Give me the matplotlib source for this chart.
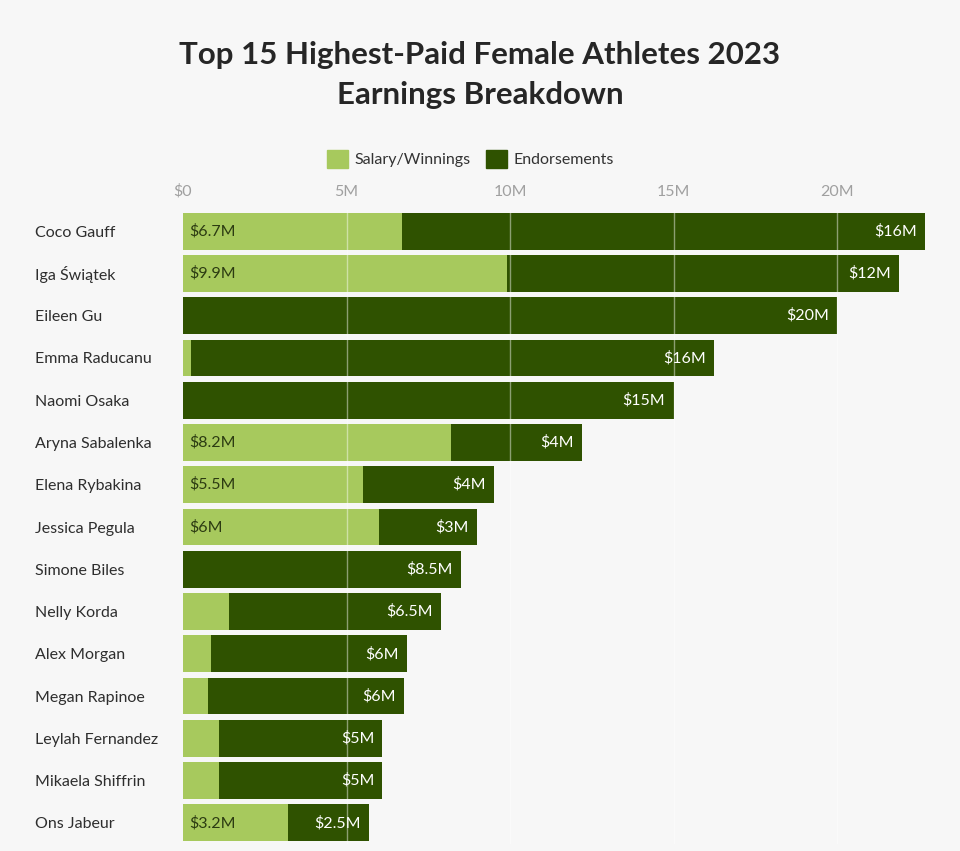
import matplotlib
matplotlib.use("Agg")
import matplotlib.pyplot as plt
from matplotlib.patches import Patch

athletes = ["Coco Gauff", "Iga Świątek", "Eileen Gu", "Emma Raducanu", "Naomi Osaka",
            "Aryna Sabalenka", "Elena Rybakina", "Jessica Pegula", "Simone Biles",
            "Nelly Korda", "Alex Morgan", "Megan Rapinoe", "Leylah Fernandez",
            "Mikaela Shiffrin", "Ons Jabeur"]
salary = [6.7, 9.9, 0.0, 0.25, 0.0, 8.2, 5.5, 6.0, 0.0, 1.4, 0.85, 0.75, 1.1, 1.1, 3.2]
endorsements = [16, 12, 20, 16, 15, 4, 4, 3, 8.5, 6.5, 6, 6, 5, 5, 2.5]
tick_values = [0, 5, 10, 15, 20]
tick_labels = ["$0", "5M", "10M", "15M", "20M"]

BG = "#f7f7f7"
LIGHT = "#a7c95d"
DARK = "#2f5200"
plt.rcParams['font.family'] = ['Lato', 'DejaVu Sans']

W, H = 960, 851
px_per_m = 32.7
xmax = 23.23
ax_w = xmax * px_per_m
fig = plt.figure(figsize=(9.6, 8.51), dpi=100, facecolor=BG)
ax = fig.add_axes([183 / W, 1 - 844 / H, ax_w / W, 634 / H], facecolor=BG)

y = list(range(len(athletes)))
h = 0.87
ax.barh(y, salary, height=h, color=LIGHT, zorder=2)
ax.barh(y, endorsements, left=salary, height=h, color=DARK, zorder=2)

for i, (s, e) in enumerate(zip(salary, endorsements)):
    if s >= 3:
        ax.text(0.2, i, f"${s:g}M", va="center", ha="left", fontsize=11.5,
                color="#2c3b12", zorder=4)
    ax.text(s + e - 0.25, i, f"${e:g}M", va="center", ha="right", fontsize=11.5,
            color="white", zorder=4)

for v in tick_values[1:]:
    ax.axvline(v, color="white", lw=1, alpha=0.45, zorder=3)

ax.set_xlim(0, xmax)
ax.set_ylim(len(athletes) - 0.5, -0.5)
ax.set_xticks(tick_values)
ax.set_xticklabels(tick_labels)
ax.xaxis.tick_top()
ax.tick_params(axis="x", length=0, labelsize=11.5, labelcolor="#a0a0a0", pad=8)
ax.set_yticks(y)
ax.set_yticklabels(athletes)
ax.tick_params(axis="y", length=0, labelsize=11.5, labelcolor="#2e2e2e", pad=0)
for lab in ax.get_yticklabels():
    lab.set_horizontalalignment("left")
    lab.set_x(-148 / ax_w)
for sp in ax.spines.values():
    sp.set_visible(False)

fig.text(0.5, 1 - 55 / H, "Top 15 Highest-Paid Female Athletes 2023",
         ha="center", va="center", fontsize=22.5, fontweight="bold", color="#262626")
fig.text(0.5, 1 - 95 / H, "Earnings Breakdown",
         ha="center", va="center", fontsize=22.5, fontweight="bold", color="#262626")

handles = [Patch(color=LIGHT, label="Salary/Winnings"), Patch(color=DARK, label="Endorsements")]
fig.legend(handles=handles, loc="center", bbox_to_anchor=(0.49, 1 - 159 / H), ncol=2,
           frameon=False, fontsize=11.5, handlelength=1.3, handleheight=1.3,
           handletextpad=0.4, columnspacing=1.0, labelcolor="#333333")

fig.savefig("out.png", dpi=100, facecolor=BG)
